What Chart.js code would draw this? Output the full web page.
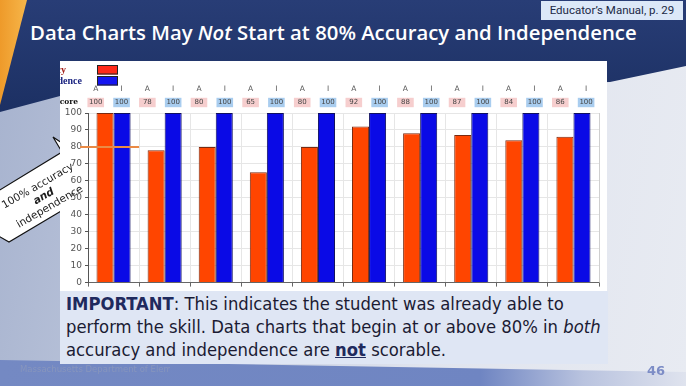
<!DOCTYPE html>
<html>
<head>
<meta charset="utf-8">
<script src="https://cdn.jsdelivr.net/npm/chart.js@4.4.0/dist/chart.umd.min.js"></script>
<style>
  html, body { margin: 0; padding: 0; }
  body {
    width: 686px; height: 386px; overflow: hidden; position: relative;
    font-family: "Open Sans", sans-serif;
    background: linear-gradient(100deg, #a6b2ce 0%, #bfc8dd 30%, #e0e4ee 65%, #e8ebf2 100%);
  }
  #deco { position: absolute; left: 0; top: 0; }
  #title {
    position: absolute; left: 30px; top: 18px; white-space: nowrap;
    color: #fff; font-size: 20px; font-weight: 600; font-family: "Open Sans", sans-serif;
  }
  #manual {
    position: absolute; left: 541px; top: 1px; width: 142px; height: 19px;
    background: #dce8f8; color: #1b2946; font: 11.5px Roboto, sans-serif;
    line-height: 19px; text-align: center;
  }
  #chartBox {
    position: absolute; left: 60px; top: 61px; width: 547px; height: 230px;
    background: #fff; overflow: hidden;
  }
  #note {
    position: absolute; left: 60px; top: 291px; width: 548px; height: 73px;
    background: #dfe6f4; box-sizing: border-box; padding: 1px 0 0 6px;
    font-family: "DejaVu Sans Condensed", "DejaVu Sans", sans-serif; font-size: 17px;
    line-height: 23px; color: #1b1b33; white-space: nowrap;
  }
  #note .ln { display: inline-block; }
  #note b { color: #1f2a5e; }
  #note u { color: #1f2a5e; font-weight: bold; }
  #footer {
    position: absolute; left: 20px; top: 364px; width: 150px; overflow: hidden; white-space: nowrap;
    font: 8.5px "DejaVu Sans", sans-serif; color: rgba(140, 152, 188, 0.8);
  }
  #pageNo {
    position: absolute; left: 647px; top: 363px;
    font: bold 13px "DejaVu Sans", sans-serif; color: #7d8dc6;
  }
</style>
</head>
<body>
<svg id="deco" width="686" height="386">
  <defs>
    <linearGradient id="navy" x1="0" y1="0" x2="0" y2="1">
      <stop offset="0" stop-color="#283d76"/>
      <stop offset="1" stop-color="#1c3063"/>
    </linearGradient>
    <linearGradient id="band" x1="0" y1="0" x2="1" y2="0">
      <stop offset="0" stop-color="#7489c3"/>
      <stop offset="0.7" stop-color="#6f85c2"/>
      <stop offset="0.85" stop-color="#b9c3df"/>
      <stop offset="1" stop-color="#dfe3ee"/>
    </linearGradient>
    <linearGradient id="orange" x1="0" y1="0" x2="1" y2="0">
      <stop offset="0" stop-color="#ee9a2a"/>
      <stop offset="1" stop-color="#f6b64a"/>
    </linearGradient>
  </defs>
  <polygon points="0,360 686,372 686,386 0,386" fill="url(#band)"/>
  <polygon points="0,0 686,0 686,66 610,82 60,96 0,112" fill="url(#navy)"/>
  <polygon points="0,0 27,0 0,105" fill="url(#orange)"/>
  <polygon points="-10,196 62,152 53,137 92,163 98,215 88,195 9,242 -5,234"
           fill="#fff" stroke="#111" stroke-width="1.2"/>
</svg>

<div id="title">Data Charts May <i>Not</i> Start at 80% Accuracy and Independence</div>
<div id="manual">Educator’s Manual, p. 29</div>

<div id="chartBox"><canvas id="chart" width="547" height="230"></canvas></div>

<svg id="callout" width="686" height="386" style="position:absolute;left:0;top:0">
  <g transform="translate(43,195) rotate(-30)" font-family="DejaVu Sans, sans-serif" font-size="10.5" fill="#1a1a1a" text-anchor="middle">
    <text x="0" y="-7.5">100% accuracy</text>
    <text x="0" y="4.5" font-weight="bold" font-style="italic">and</text>
    <text x="0" y="16.5">independence</text>
  </g>
</svg>

<div id="note"><span class="ln"><b>IMPORTANT</b>: This indicates the student was already able to</span><br><span class="ln" id="line2">perform the skill. Data charts that begin at or above 80% in <i>both</i></span><br><span class="ln">accuracy and independence are <u>not</u> scorable.</span></div>
<div id="footer">Massachusetts Department of Elementary and Secondary Education</div>
<div id="pageNo">46</div>

<script>
const sessions = ['1', '2', '3', '4', '5', '6', '7', '8', '9', '10'];
const accuracy = [100, 78, 80, 65, 80, 92, 88, 87, 84, 86];
const independence = [100, 100, 100, 100, 100, 100, 100, 100, 100, 100];
const seriesNames = ['Accuracy', 'Independence'];
const rowLetters = ['A', 'I'];
const masteryLevel = 80;

// fit the title and the note to the widths they have on the slide
const title = document.getElementById('title');
title.style.fontSize = (20 * 607 / title.getBoundingClientRect().width) + 'px';
const note = document.getElementById('note');
note.style.fontSize = (17 * 535 / document.getElementById('line2').getBoundingClientRect().width) + 'px';

const series = [accuracy, independence];
const fills = ['#ff4500', '#0a0ae6'];
const edges = ['#7a2a10', '#101060'];
const legendFills = ['#ff2a1a', '#1414f0'];
const boxFills = ['#f6cece', '#a9cdef'];

// score table, legend and the 80% marker above/around the plot
const extras = {
    id: 'extras',
    afterDraw(chart) {
        const ctx = chart.ctx;
        const area = chart.chartArea;
        const y = chart.scales.y;
        const colW = (area.right - area.left) / 19.8;

        ctx.save();
        // right border of the plot
        ctx.strokeStyle = '#cfcfcf';
        ctx.lineWidth = 1;
        ctx.beginPath();
        ctx.moveTo(area.right + 0.5, area.top);
        ctx.lineTo(area.right + 0.5, area.bottom);
        ctx.stroke();

        // legend (the chart image is cropped on the left, so labels run off the edge)
        ctx.textAlign = 'right';
        ctx.textBaseline = 'middle';
        ctx.font = 'bold 10px "Liberation Serif", serif';
        seriesNames.forEach((name, d) => {
            const top = 4 + d * 11;
            ctx.fillStyle = d ? '#1a2380' : '#a3201a';
            ctx.fillText(name, d ? 22 : 6, top + 5);
            ctx.fillStyle = legendFills[d];
            ctx.fillRect(area.left + 9, top, 21, 9.5);
            ctx.strokeStyle = '#222';
            ctx.strokeRect(area.left + 9.5, top + 0.5, 20, 8.5);
        });

        // score row label
        ctx.fillStyle = '#111';
        ctx.font = 'bold 7.5px "DejaVu Serif", serif';
        ctx.fillText('Score', 18, area.top - 10.5);

        // A / I row and score boxes
        ctx.textAlign = 'center';
        sessions.forEach((s, i) => {
            series.forEach((vals, d) => {
                const x = area.left + colW * (0.3 + i * 2 + d);
                ctx.fillStyle = '#555';
                ctx.font = '7.5px "DejaVu Sans", sans-serif';
                ctx.fillText(rowLetters[d], x, area.top - 23.5);
                ctx.fillStyle = boxFills[d];
                ctx.fillRect(x - 8.3, area.top - 15.2, 16.6, 9.4);
                ctx.fillStyle = '#444';
                ctx.font = '7px "DejaVu Sans", sans-serif';
                ctx.fillText(String(vals[i]), x, area.top - 10.4);
            });
        });

        // 80% marker
        const y80 = y.getPixelForValue(masteryLevel);
        ctx.strokeStyle = '#ea8a45';
        ctx.lineWidth = 2;
        ctx.beginPath();
        ctx.moveTo(area.left - 8, y80);
        ctx.lineTo(area.left + (area.right - area.left) / sessions.length, y80);
        ctx.stroke();
        ctx.restore();
    }
};

new Chart(document.getElementById('chart'), {
    type: 'bar',
    data: {
        labels: sessions,
        datasets: series.map((vals, d) => ({
            label: seriesNames[d],
            data: vals,
            backgroundColor: fills[d],
            borderColor: edges[d],
            borderWidth: 1,
            categoryPercentage: 0.667,
            barPercentage: 1
        }))
    },
    options: {
        responsive: false,
        animation: false,
        layout: { padding: { top: 52, right: 8, left: 0, bottom: 0 } },
        plugins: { legend: { display: false }, tooltip: { enabled: false } },
        scales: {
            x: {
                grid: { color: '#e6e6e6', tickColor: '#666', tickLength: 4, offset: true },
                border: { color: '#666' },
                ticks: { display: false },
                afterFit: s => { s.height = 4; }
            },
            y: {
                min: 0,
                max: 100,
                ticks: { stepSize: 10, color: '#555', padding: 3, font: { size: 9, family: 'DejaVu Sans' } },
                grid: { color: '#e6e6e6', tickColor: '#555', tickLength: 3 },
                border: { color: '#555' },
                afterFit: s => { s.height; s.width = 28; }
            }
        }
    },
    plugins: [extras]
});
</script>
</body>
</html>
